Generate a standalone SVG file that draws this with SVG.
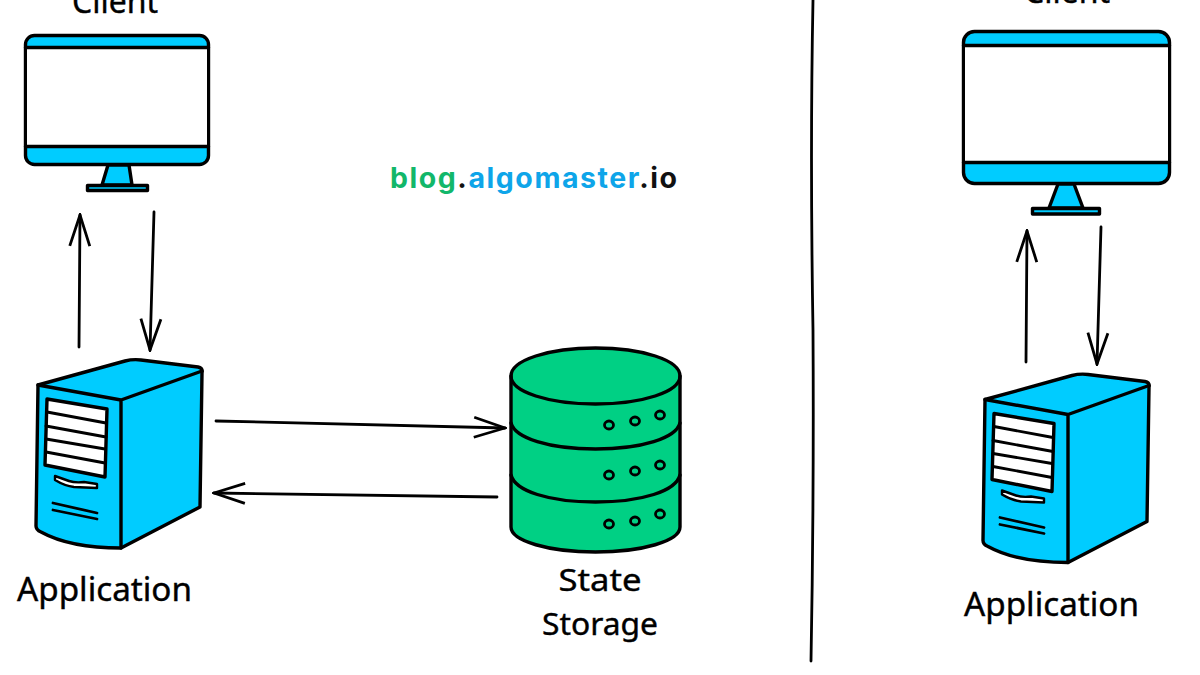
<svg xmlns="http://www.w3.org/2000/svg" xmlns:xlink="http://www.w3.org/1999/xlink" width="1200" height="675" viewBox="0 0 1200 675">
<style>
.b{fill:#00ccff}
.g{fill:#00d084}
.w{fill:#fff}
.s{stroke:#000;stroke-width:3.400;stroke-linejoin:round;stroke-linecap:round}
.n{fill:none}
.t{stroke:#000;stroke-width:2.800;fill:none;stroke-linecap:round}
.c{stroke:#000;stroke-width:2.800;fill:none;stroke-linecap:round}
.l{font-family:"Noto Sans","Liberation Sans",sans-serif;font-size:33px;fill:#000;stroke:#000;stroke-width:.4}
.m{font-family:Inter,"Liberation Sans",sans-serif;font-size:28.500px;font-weight:700}
</style>
<defs>
<marker id="a" viewBox="0 0 36 24" refX="34" refY="12" markerWidth="36" markerHeight="24" markerUnits="userSpaceOnUse" orient="auto">
<path d="M3 2L34 12L3 22" fill="none" stroke="#000" stroke-width="2.800" stroke-linecap="butt" stroke-linejoin="miter"/>
</marker>
<g id="srv">
<path class="b s" d="M38 385L125 361Q133 359 141 360L198 367Q203 368 202 373L200 507L121 548Q70 548 41 532Q36 530 36 526Z"/>
<path class="n s" d="M38 385L121 400L202 371M121 400V548"/>
<path class="w s" d="M47 399L107 409L105 477L45 465Z"/>
<path class="n t" d="M47 412L106 423M46 426L106 437M46 439L105 449M46 452L105 463"/>
<path class="w s" d="M55 476L69 481Q75 483 84 482L97 484V488L74 487Q65 486 55 480Z" style="stroke-width:2.400"/>
<path class="n t" d="M53 503L97 513M53 510L97 519"/>
</g>
</defs>
<rect width="1200" height="675" fill="#fff"/>
<g id="connectors">
<path class="c" marker-end="url(#a)" d="M79 347L80 215"/>
<path class="c" marker-end="url(#a)" d="M154 212L150 350"/>
<path class="c" marker-end="url(#a)" d="M216 421L505 428"/>
<path class="c" marker-end="url(#a)" d="M497 497L214 493"/>
<path class="c" marker-end="url(#a)" d="M1026 362L1027 231"/>
<path class="c" marker-end="url(#a)" d="M1101 227L1097 364"/>
<path class="c" d="M813 0Q810 150 813 330Q814 500 811 661"/>
</g>
<g id="client-left">
<rect class="b s" x="25.500" y="35.500" width="183" height="129" rx="9"/>
<rect class="w" x="27" y="47" width="180" height="99"/>
<path class="n s" d="M25.500 47.500H208.500M25.500 146.500H208.500"/>
<path class="b s" d="M108 165H129L132 185H102Z"/>
<rect class="b s" x="87.500" y="185.500" width="60" height="5"/>
<text class="l" x="115" y="13" text-anchor="middle" textLength="86" lengthAdjust="spacingAndGlyphs">Client</text>
</g>
<g id="application-left">
<use xlink:href="#srv" href="#srv"/>
<text class="l" x="17" y="601" textLength="175" lengthAdjust="spacingAndGlyphs">Application</text>
</g>
<g id="state-storage">
<path class="g s" d="M511 376C511 360 549 348 595.500 348C642 348 680 360 680 376V527C680 541 642 552 595.500 552C549 552 511 541 511 527Z"/>
<path class="n s" d="M511 376C511 392 549 404 595.500 404C642 404 680 392 680 376M511 423C515 438 549 449 595.500 449C642 449 676 438 680 423M511 475C515 491 549 502 595.500 502C642 502 676 491 680 475"/>
<g class="n" stroke="#000" stroke-width="2.800">
<ellipse cx="609" cy="425" rx="4.500" ry="4"/><ellipse cx="635" cy="421" rx="4.500" ry="4"/><ellipse cx="660" cy="415" rx="4.500" ry="4"/>
<ellipse cx="609" cy="475" rx="4.500" ry="4"/><ellipse cx="635" cy="471" rx="4.500" ry="4"/><ellipse cx="660" cy="465" rx="4.500" ry="4"/>
<ellipse cx="609" cy="524" rx="4.500" ry="4"/><ellipse cx="635" cy="521" rx="4.500" ry="4"/><ellipse cx="660" cy="514" rx="4.500" ry="4"/>
</g>
<text class="l" x="600" y="591" text-anchor="middle" textLength="83" lengthAdjust="spacingAndGlyphs" style="font-size:31px">State</text>
<text class="l" x="600" y="635" text-anchor="middle" textLength="116" lengthAdjust="spacingAndGlyphs" style="font-size:31px">Storage</text>
</g>
<g id="watermark">
<text class="m" x="390" y="188" textLength="287"><tspan fill="#12b76a">blog</tspan><tspan fill="#111">.</tspan><tspan fill="#0ea5e9">algomaster</tspan><tspan fill="#111">.io</tspan></text>
</g>
<g id="client-right">
<rect class="b s" x="963.500" y="31.500" width="206" height="152" rx="11"/>
<rect class="w" x="965" y="45" width="203" height="117"/>
<path class="n s" d="M963.500 45.500H1169.500M963.500 162.500H1169.500"/>
<path class="b s" d="M1058 184H1074L1083 208H1049Z"/>
<rect class="b s" x="1032.500" y="208.500" width="67" height="5.500"/>
<text class="l" x="1067" y="3" text-anchor="middle" textLength="86" lengthAdjust="spacingAndGlyphs">Client</text>
</g>
<g id="application-right">
<use xlink:href="#srv" href="#srv" x="947" y="14.500"/>
<text class="l" x="964" y="616" textLength="175" lengthAdjust="spacingAndGlyphs">Application</text>
</g>
</svg>
